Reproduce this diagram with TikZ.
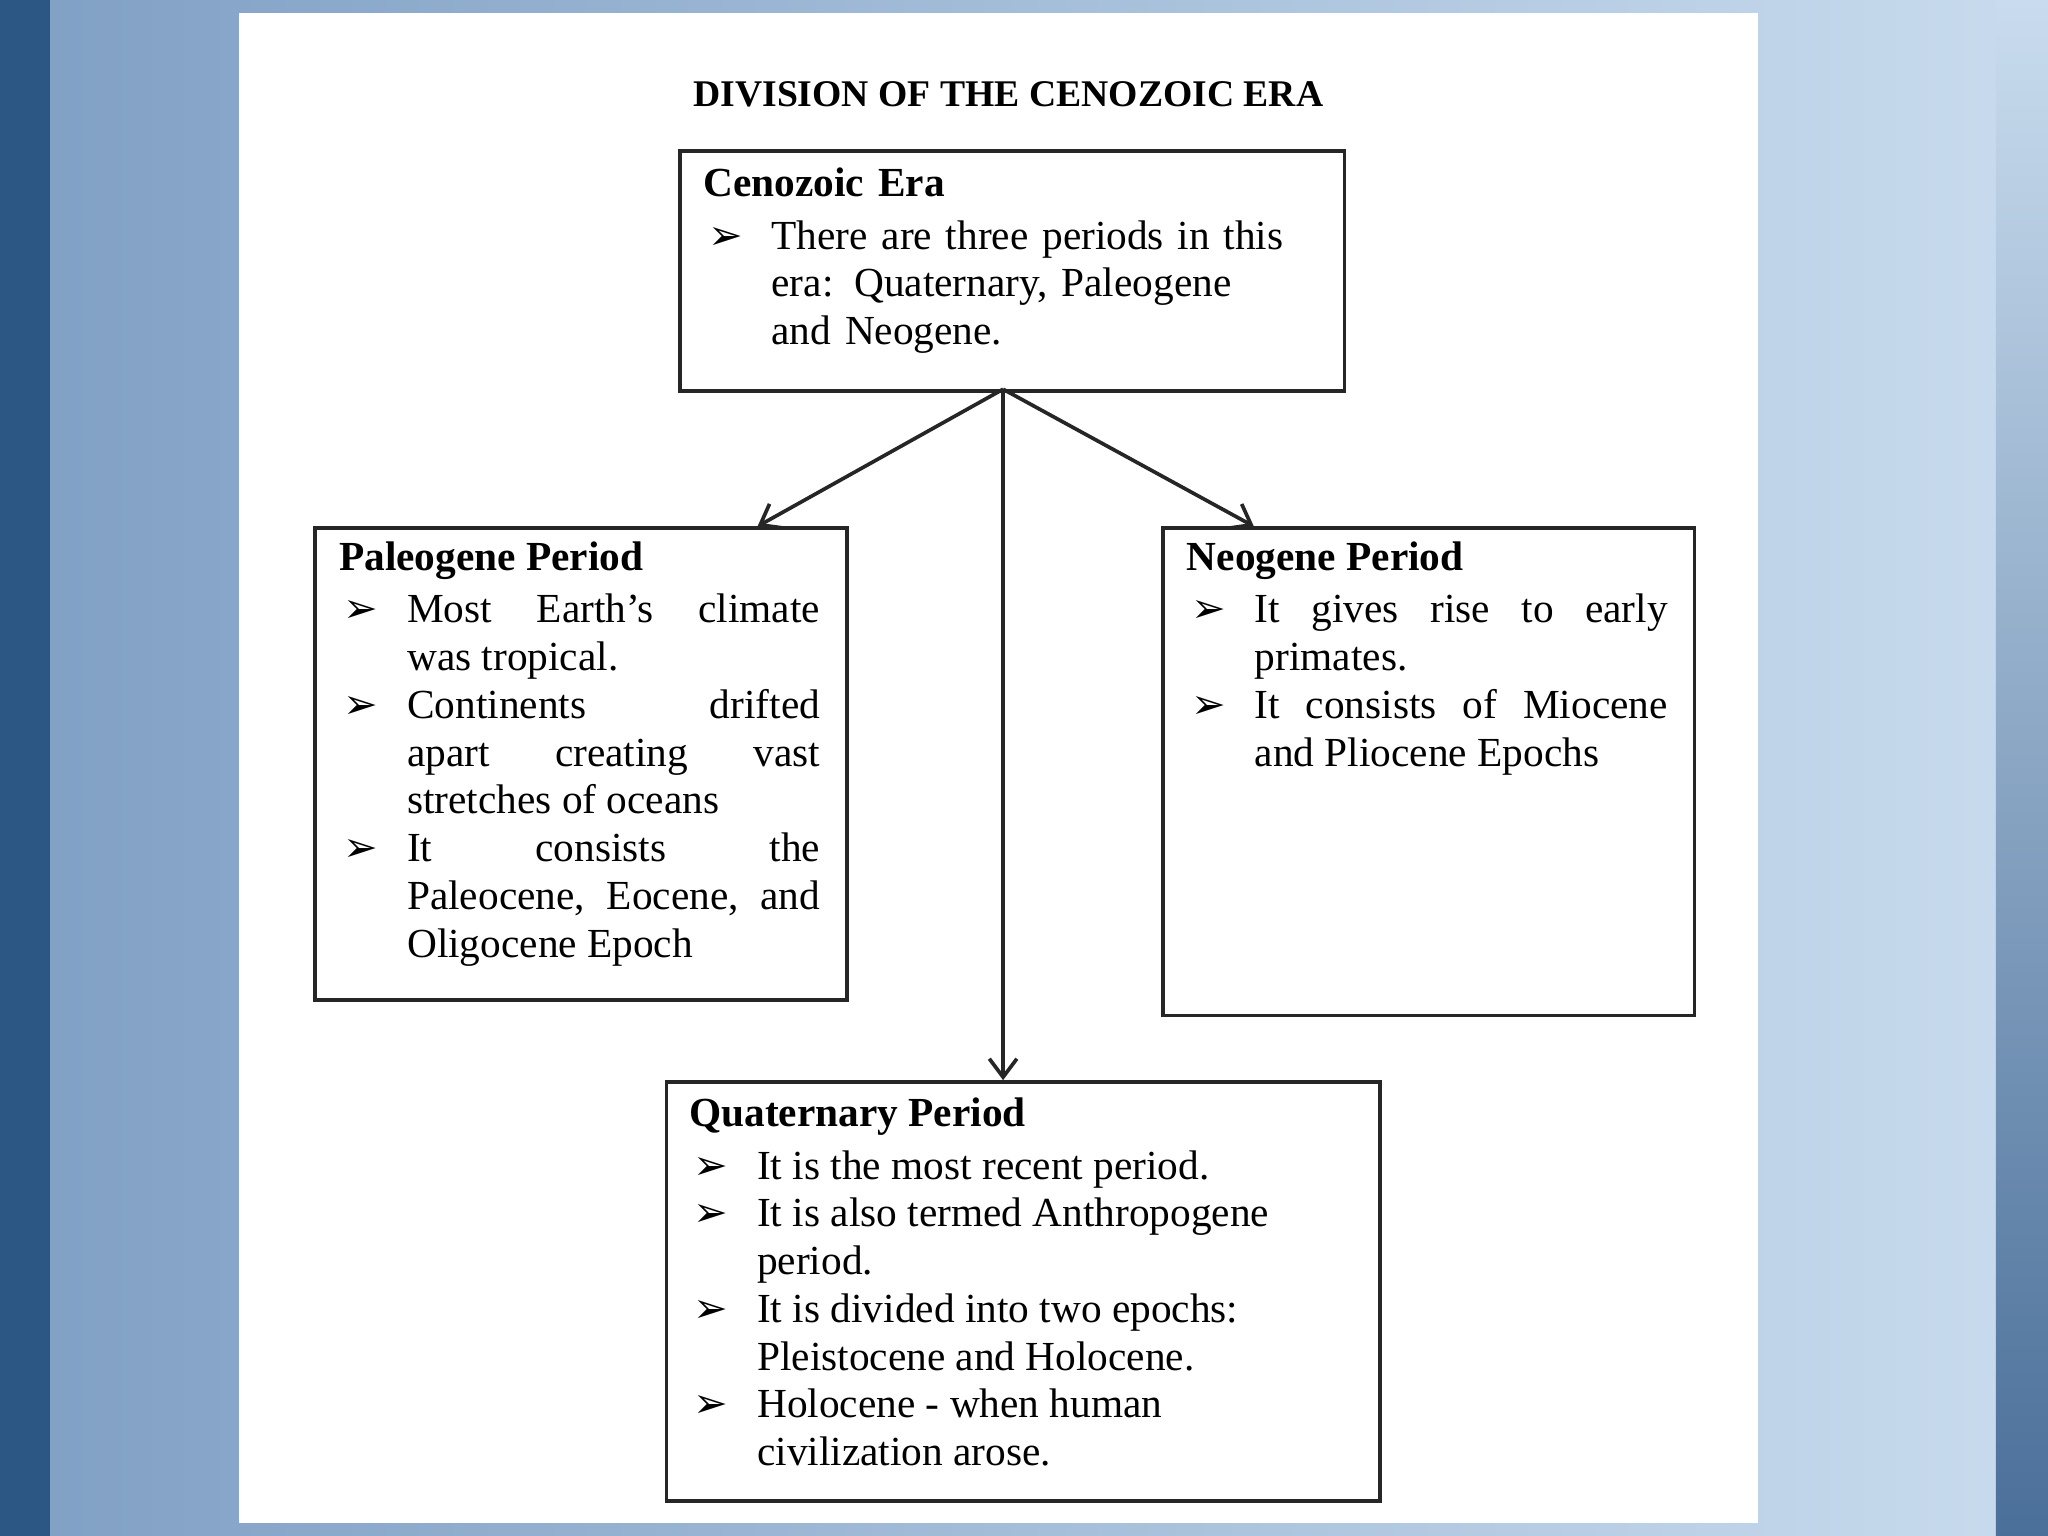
\documentclass[tikz,border=0pt]{standalone}
\usepackage{fontspec}
\setmainfont{Liberation Serif}
\newfontfamily\arrowfont{DejaVu Sans}
\usepackage{enumitem}
\usetikzlibrary{arrows.meta}
\definecolor{bgA}{HTML}{7F9FC4}
\definecolor{bgB}{HTML}{C9DCEE}
\definecolor{stripL}{HTML}{2C5684}
\definecolor{stripR}{HTML}{4A6F99}
\newcommand{\mylist}[1]{\begin{itemize}[label={\arrowfont\small ➢},leftmargin=0.52cm,labelsep=0.22cm,itemsep=0pt,topsep=0pt,parsep=0pt,partopsep=0pt]#1\end{itemize}}
\tikzset{
  box/.style={draw=black!85,line width=0.8pt,anchor=north west,inner sep=0pt},
  txt/.style={anchor=north west,inner sep=0pt,font=\fontsize{9}{10.4}\selectfont,align=justify},
  arr/.style={-{Straight Barb[length=4pt,width=6pt]},line width=0.8pt,black!85}
}
\begin{document}
\begin{tikzpicture}[x=0.01cm,y=-0.01cm]
\useasboundingbox (0,0) rectangle (1568,1176);
\shade[left color=bgA,right color=bgB] (0,0) rectangle (1568,1176);
\fill[stripL] (0,0) rectangle (38,1176);
\shade[top color=bgB,bottom color=stripR] (1528,0) rectangle (1568,1176);
\fill[white] (183,10) rectangle (1346,1166);
\node[anchor=center,font=\bfseries\fontsize{8.2}{10}\selectfont] (title) at (772,72) {DIVISION OF THE CENOZOIC ERA};
% boxes
\node[box,minimum width=509*0.01cm,minimum height=184*0.01cm] (ceno) at (519,114) {};
\node[box,minimum width=407*0.01cm,minimum height=361*0.01cm] (pal) at (240,403) {};
\node[box,minimum width=407*0.01cm,minimum height=373*0.01cm] (neo) at (889,403) {};
\node[box,minimum width=546*0.01cm,minimum height=321*0.01cm] (qua) at (509,827) {};
% texts
\node[txt,text width=4.6cm,align=left] (cenot) at (538,128) {\parbox{4.6cm}{\raggedright\textbf{Cenozoic Era}\par\vspace{1pt}
\mylist{\item There are three periods in this era: Quaternary, Paleogene and Neogene.}}};
\node[txt,text width=3.68cm] (palt) at (259,414) {\parbox{3.68cm}{\textbf{Paleogene Period}\par\vspace{1pt}
\mylist{\item Most Earth's climate\linebreak was tropical.
\item Continents drifted\linebreak apart creating vast\linebreak stretches of oceans
\item It consists the\linebreak Paleocene, Eocene, and\linebreak Oligocene Epoch}}};
\node[txt,text width=3.68cm] (neot) at (908,414) {\parbox{3.68cm}{\textbf{Neogene Period}\par\vspace{1pt}
\mylist{\item It gives rise to early\linebreak primates.
\item It consists of Miocene\linebreak and Pliocene Epochs}}};
\node[txt,text width=4.9cm] (quat) at (527,840) {\parbox{4.9cm}{\raggedright\textbf{Quaternary Period}\par\vspace{1pt}
\mylist{\item It is the most recent period.
\item It is also termed Anthropogene\\ period.
\item It is divided into two epochs:\\ Pleistocene and Holocene.
\item Holocene - when human\\ civilization arose.}}};
% connectors
\coordinate (top) at (768,298);
\draw[arr] (top) -- (pal.north -| 580,0);
\draw[arr] (top) -- (neo.north -| 960,0);
\draw[arr] (top) -- (qua.north -| top);
\end{tikzpicture}
\end{document}
